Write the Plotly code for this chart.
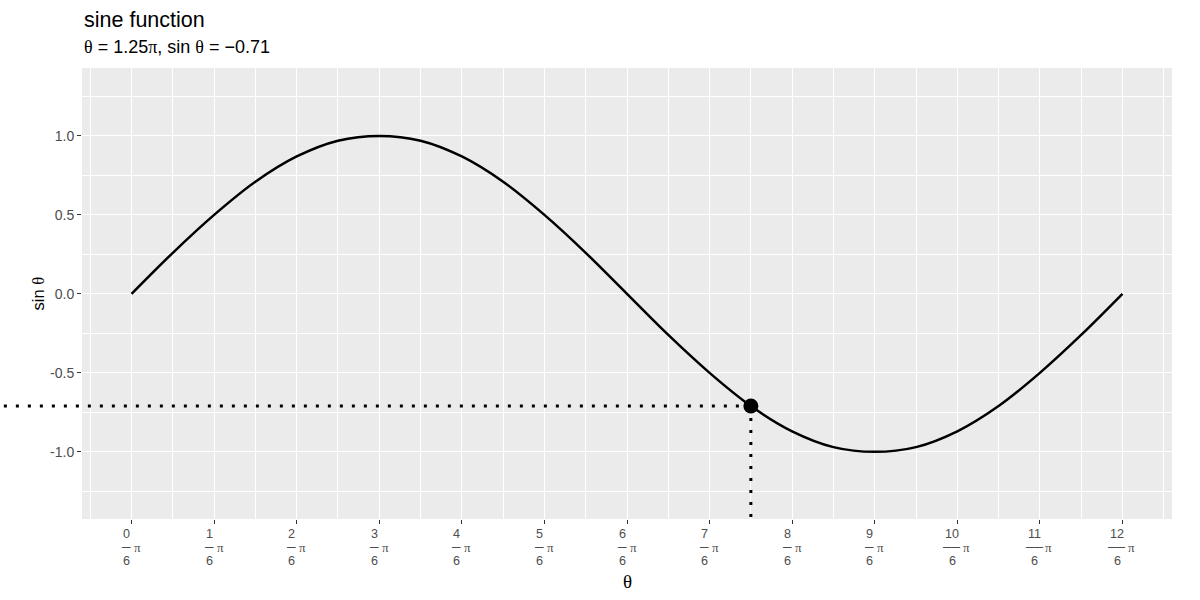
import numpy as np
import plotly.graph_objects as go

# ---- data (theta measured in steps of pi/6) ----
theta_steps = [0, 0.5, 1, 1.5, 2, 2.5, 3, 3.5, 4, 4.5, 5, 5.5, 6,
               6.5, 7, 7.5, 8, 8.5, 9, 9.5, 10, 10.5, 11, 11.5, 12]
sin_values = [0.0, 0.26, 0.5, 0.71, 0.87, 0.97, 1.0, 0.97, 0.87, 0.71, 0.5, 0.26, 0.0,
              -0.26, -0.5, -0.71, -0.87, -0.97, -1.0, -0.97, -0.87, -0.71, -0.5, -0.26, 0.0]
point_step = 7.5
point_sin = -0.71
tick_steps = [0, 1, 2, 3, 4, 5, 6, 7, 8, 9, 10, 11, 12]
tick_numerators = ["0", "1", "2", "3", "4", "5", "6", "7", "8", "9", "10", "11", "12"]
tick_denominator = "6"
y_ticks = [-1.0, -0.5, 0.0, 0.5, 1.0]
y_tick_labels = ["-1.0", "-0.5", "0.0", "0.5", "1.0"]
y_minor = [-1.25, -0.75, -0.25, 0.25, 0.75, 1.25]

UNIT = np.pi / 6
x_vals = [s * UNIT for s in theta_steps]
px = point_step * UNIT
x_range = [-0.6 * UNIT, 12.6 * UNIT]
y_range = [-1.425, 1.43]
minor_x = [(s + 0.5) * UNIT for s in [-1] + tick_steps]

SANS = "Liberation Sans, Arial, sans-serif"
SERIF = "Liberation Serif, Times New Roman, serif"
TICKCOL = "#4D4D4D"

fig = go.Figure()
fig.add_trace(go.Scatter(x=x_vals, y=sin_values, mode="lines",
                         line=dict(color="black", width=2.5, shape="spline", smoothing=1.0),
                         hoverinfo="skip", showlegend=False))
fig.add_trace(go.Scatter(x=[px], y=[point_sin], mode="markers",
                         marker=dict(color="black", size=15),
                         showlegend=False))

dot = dict(color="black", width=3, dash="3px,9px")
# vertical guide from the point down to the panel bottom
fig.add_shape(type="line", xref="x", yref="y", x0=px, x1=px,
              y0=point_sin, y1=y_range[0], line=dot)
# horizontal guide from the point to beyond the left edge
px_dom = (px - x_range[0]) / (x_range[1] - x_range[0])
py_dom = (point_sin - y_range[0]) / (y_range[1] - y_range[0])
fig.add_shape(type="line", xref="x domain", yref="y domain",
              x0=px_dom, x1=-0.1, y0=py_dom, y1=py_dom, line=dot)

ann = []
for s, num in zip(tick_steps, tick_numerators):
    xv = s * UNIT
    two = len(num) > 1
    fx = -5
    ann.append(dict(x=xv, y=0, xref="x", yref="paper", text=num, showarrow=False,
                    xshift=fx, yshift=-15.3, yanchor="middle",
                    font=dict(family=SANS, size=12.6, color=TICKCOL)))
    ann.append(dict(x=xv, y=0, xref="x", yref="paper", text="<b>——</b>" if two else "<b>—</b>",
                    showarrow=False, xshift=fx, yshift=-28, yanchor="middle",
                    font=dict(family=SANS, size=8.5, color=TICKCOL)))
    ann.append(dict(x=xv, y=0, xref="x", yref="paper", text=tick_denominator,
                    showarrow=False, xshift=fx, yshift=-42.3, yanchor="middle",
                    font=dict(family=SANS, size=12.6, color=TICKCOL)))
    ann.append(dict(x=xv, y=0, xref="x", yref="paper", text="π", showarrow=False,
                    xshift=9 if two else 6, yshift=-28, yanchor="middle",
                    font=dict(family=SERIF, size=13, color=TICKCOL)))

ser = "<span style=\"font-family:'Liberation Serif'\">%s</span>"
ann.append(dict(x=0, y=1, xref="paper", yref="paper", text="sine function",
                showarrow=False, xanchor="left", yanchor="middle", yshift=48.2,
                font=dict(family=SANS, size=21.5, color="black")))
ann.append(dict(x=0, y=1, xref="paper", yref="paper",
                text=(ser % "θ") + " = 1.25" + (ser % "π") + ", sin " + (ser % "θ") + " = −0.71",
                showarrow=False, xanchor="left", yanchor="middle", yshift=20.9,
                font=dict(family=SANS, size=18, color="black")))
ann.append(dict(x=0, y=0.5, xref="paper", yref="paper", text="sin " + (ser % "θ"),
                showarrow=False, textangle=-90, xanchor="center", yanchor="middle",
                xshift=-44, font=dict(family=SANS, size=16.5, color="black")))
ann.append(dict(x=0.5, y=0, xref="paper", yref="paper", text="θ",
                showarrow=False, xanchor="center", yanchor="middle", yshift=-62,
                font=dict(family=SERIF, size=19, color="black")))

fig.update_layout(
    width=1200, height=600,
    margin=dict(l=82, r=28, t=68, b=81),
    paper_bgcolor="white", plot_bgcolor="#EBEBEB",
    showlegend=False, annotations=ann,
    xaxis=dict(range=x_range, tickvals=[s * UNIT for s in tick_steps],
               showticklabels=False, ticks="outside", ticklen=4,
               tickcolor="#333333", tickwidth=1,
               showgrid=True, gridcolor="white", gridwidth=1.2,
               zeroline=False, showline=False,
               minor=dict(tickvals=minor_x, showgrid=True, gridcolor="white",
                          gridwidth=0.5, ticks="")),
    yaxis=dict(range=y_range, tickvals=y_ticks, ticktext=y_tick_labels,
               ticks="outside", ticklen=4, tickcolor="#333333", tickwidth=1,
               tickfont=dict(family=SANS, size=14, color=TICKCOL),
               showgrid=True, gridcolor="white", gridwidth=1.2,
               zeroline=False, showline=False,
               minor=dict(tickvals=y_minor, showgrid=True, gridcolor="white",
                          gridwidth=0.5, ticks="")),
)

fig.write_html("out.html", config={"displayModeBar": False},
               post_script="document.body.style.margin='0px';document.body.style.overflow='hidden';")
